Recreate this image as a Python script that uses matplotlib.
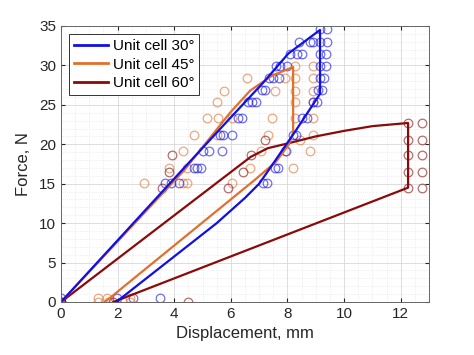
import matplotlib
matplotlib.use("Agg")
import matplotlib.pyplot as plt
from matplotlib.ticker import MultipleLocator

plt.rcParams['font.family'] = ['Liberation Sans', 'DejaVu Sans']

# ---- curves (displacement mm, force N) ----
c30_x = [0, 4.27, 5.97, 7.14, 8.03, 9.15, 9.15, 8.25, 7.35, 7.0, 6.5, 5.5, 1.95]
c30_y = [0, 16.7, 23.3, 27.8, 31.5, 34.5, 26.4, 21.5, 16.8, 15.0, 13.2, 10.0, 0]

c45_x = [0, 4.35, 5.97, 6.68, 7.45, 8.2, 8.2, 8.05, 7.6, 6.85, 1.55]
c45_y = [0, 16.7, 24.0, 26.8, 28.7, 29.8, 21.5, 20.0, 17.8, 15.5, 0]

c60_x = [0, 6.7, 7.3, 8.0, 9.0, 10.0, 11.0, 12.26, 12.26, 1.85]
c60_y = [0, 18.4, 19.5, 20.1, 21.0, 21.7, 22.3, 22.7, 14.5, 0]

# ---- measured points ----
m30_x = [9.15, 9.38,
         8.4, 8.8, 8.9, 9.15, 9.38,
         8.1, 8.33, 8.5, 9.15, 9.36,
         7.6, 7.72, 7.98, 9.15, 9.36,
         7.35, 7.5, 7.7, 9.15, 9.3,
         7.1, 7.2, 9.08, 9.22,
         6.6, 6.75, 6.88, 8.9, 9.04,
         6.25, 6.39, 8.5, 8.69,
         5.62, 5.72, 6.04, 8.2, 8.29,
         5.02, 5.24, 5.68, 7.95,
         4.7, 4.82, 4.95, 7.56, 7.66,
         3.67, 3.9, 4.17, 7.14, 7.27,
         0, 1.97, 2.55, 3.5,
         0]
m30_y = [34.6, 34.6,
         33.0, 33.0, 33.0, 33.0, 33.0,
         31.5, 31.5, 31.5, 31.5, 31.5,
         29.9, 29.9, 29.9, 29.9, 29.9,
         28.4, 28.4, 28.4, 28.4, 28.4,
         26.9, 26.9, 26.9, 26.9,
         25.4, 25.4, 25.4, 25.4, 25.4,
         23.3, 23.3, 23.3, 23.3,
         21.2, 21.2, 21.2, 21.2, 21.2,
         19.1, 19.1, 19.1, 19.1,
         17.0, 17.0, 17.0, 17.0, 17.0,
         15.1, 15.1, 15.1, 15.1, 15.1,
         0.5, 0.5, 0.5, 0.5,
         0]

m45_x = [8.27, 8.9,
         6.57, 7.9, 8.27, 8.9,
         5.76, 7.56, 8.27, 8.9,
         5.5, 8.27, 8.9,
         5.16, 5.55, 6.04, 7.45, 8.27, 8.9,
         4.7, 5.5, 7.3, 8.44, 8.9,
         4.31, 7.05, 7.9, 8.8,
         3.81, 4.45, 6.68, 8.2,
         2.93, 4.31, 4.45, 6.04,
         1.31, 1.62, 2.44,
         0, 1.31, 1.66, 2.44]
m45_y = [29.9, 29.9,
         28.4, 28.4, 28.4, 28.4,
         26.8, 26.8, 26.8, 26.8,
         25.4, 25.4, 25.4,
         23.3, 23.3, 23.3, 23.3, 23.3, 23.3,
         21.2, 21.2, 21.2, 20.6, 21.2,
         19.1, 19.1, 19.1, 19.1,
         17.0, 17.0, 17.0, 17.0,
         15.1, 15.1, 15.1, 15.1,
         0.5, 0.5, 0.5,
         0, 0, 0, 0]

m60_x = [12.26, 12.75, 12.26, 12.75, 12.26, 12.75, 12.26, 12.75, 12.26, 12.75,
         3.92, 3.81, 3.57, 6.71, 6.43, 5.9, 7.2,
         0, 1.85, 4.49]
m60_y = [22.7, 22.7, 20.6, 20.6, 18.6, 18.6, 16.5, 16.5, 14.5, 14.5,
         18.6, 16.5, 14.5, 18.6, 16.5, 14.5, 20.6,
         0, 0, 0]

labels = ['Unit cell 30°', 'Unit cell 45°', 'Unit cell 60°']
x_ticks = [0, 2, 4, 6, 8, 10, 12]
y_ticks = [0, 5, 10, 15, 20, 25, 30, 35]

col30 = '#1010E6'
col45 = '#E2702C'
col60 = '#8A0A0A'

fig = plt.figure(figsize=(4.74, 3.55), dpi=100)
ax = fig.add_axes([0.1287, 0.1493, 0.7764, 0.7775])

mk = dict(linestyle='none', marker='o', markersize=6.2, markerfacecolor='none',
          markeredgewidth=0.9)
ax.plot(m45_x, m45_y, markeredgecolor=col45, alpha=0.6, **mk)
ax.plot(m60_x, m60_y, markeredgecolor=col60, alpha=0.6, **mk)
ax.plot(m30_x, m30_y, markeredgecolor=col30, alpha=0.6, **mk)

ax.plot(c60_x, c60_y, color=col60, lw=1.6, label=labels[2])
ax.plot(c45_x, c45_y, color=col45, lw=1.6, label=labels[1])
ax.plot(c30_x, c30_y, color=col30, lw=1.6, label=labels[0])

ax.set_xlim(0, 13)
ax.set_ylim(0, 35)
ax.set_xticks(x_ticks)
ax.set_yticks(y_ticks)
ax.xaxis.set_minor_locator(MultipleLocator(0.5))
ax.yaxis.set_minor_locator(MultipleLocator(1))
ax.grid(True, which='major', color='#d8d8d8', lw=0.6)
ax.grid(True, which='minor', color='#e2e2e2', lw=0.5, linestyle=':')
ax.set_axisbelow(True)
ax.tick_params(which='both', direction='in', top=True, right=True,
               labelsize=11, colors='#262626', length=3)
ax.tick_params(which='minor', length=0)
for s in ax.spines.values():
    s.set_color('#666666')
    s.set_linewidth(0.7)

ax.set_xlabel('Displacement, mm', fontsize=12, color='#262626', labelpad=4)
ax.set_ylabel('Force, N', fontsize=12, color='#262626', labelpad=6)

h, l = ax.get_legend_handles_labels()
leg = ax.legend(h[::-1], l[::-1], loc='upper left', fontsize=11,
                fancybox=False, framealpha=1, edgecolor='#333333',
                handlelength=2.2, borderpad=0.3, labelspacing=0.3,
                handletextpad=0.35, bbox_to_anchor=(0.0, 1.0),
                borderaxespad=0.55)
leg.get_frame().set_linewidth(0.7)
for line in leg.get_lines():
    line.set_linewidth(2)

fig.savefig('out.png', dpi=100)
